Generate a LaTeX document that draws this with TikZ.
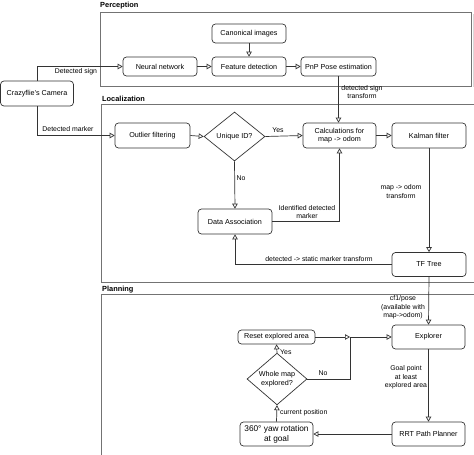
\documentclass[tikz,border=0pt]{standalone}
\usepackage{fontspec}
\setmainfont{Liberation Sans}
\usetikzlibrary{shapes.geometric,arrows.meta}
\newcommand{\nfs}{\fontsize{7.2}{8.6}\selectfont}
\newcommand{\lfs}{\fontsize{6.9}{8.4}\selectfont}
\tikzset{
  box/.style={draw=black!80, rounded corners=3.5pt, line width=0.7pt, font=\nfs, align=center, inner sep=0pt},
  dia/.style={draw=black!80, diamond, line width=0.7pt, font=\nfs, align=center, inner sep=0pt},
  frame/.style={draw=black!55, line width=1pt},
  arr/.style={draw=black!80, line width=0.7pt, -{Triangle[open, length=5pt, width=5.5pt]}},
  lbl/.style={font=\lfs, align=center, inner sep=0pt},
  hdr/.style={font=\fontsize{7.4}{9}\selectfont\bfseries, anchor=west, inner sep=0pt},
}
\begin{document}
\begin{tikzpicture}[x=1pt, y=-1pt]
\useasboundingbox[fill=white] (0,0) rectangle (474,455);
% frames
\draw[black!15, line width=1pt] (473,14) -- (473,87);
\draw[frame] (100,12.7) rectangle (471,86);
\draw[frame] (480,104.5) -- (101,104.5) -- (101,282.5) -- (480,282.5);
\draw[frame] (480,294) -- (101.5,294) -- (101.5,470);
\node[hdr] (hp) at (100,6) {Perception};
\node[hdr] (hl) at (102,99) {Localization};
\node[hdr] (hpl) at (102,289.5) {Planning};
% nodes
\node[box, minimum width=73pt, minimum height=25pt] (cam) at (37,93.5) {Crazyflie's Camera};
\node[box, minimum width=74pt, minimum height=19pt] (nn) at (160,66.5) {Neural network};
\node[box, minimum width=74pt, minimum height=19pt] (fd) at (249,66.5) {Feature detection};
\node[box, minimum width=74pt, minimum height=19pt] (ci) at (249,33.5) {Canonical images};
\node[box, minimum width=75pt, minimum height=19pt] (pnp) at (338.5,66.5) {PnP Pose estimation};
\node[box, minimum width=75pt, minimum height=25pt] (of) at (152.5,135.5) {Outlier filtering};
\node[dia, minimum width=61pt, minimum height=49pt] (uid) at (234.5,136.5) {Unique ID?};
\node[box, minimum width=73pt, minimum height=25pt] (calc) at (339.5,135.5) {Calculations for\\map -> odom};
\node[box, minimum width=74pt, minimum height=25pt] (kf) at (429,135.5) {Kalman filter};
\node[box, minimum width=74pt, minimum height=25pt] (da) at (235,221.5) {Data Association};
\node[box, minimum width=74pt, minimum height=24pt] (tf) at (429,264.5) {TF Tree};
\node[box, minimum width=73pt, minimum height=24pt] (exp) at (428.5,337) {Explorer};
\node[box, minimum width=77pt, minimum height=14pt] (reset) at (276.5,337) {Reset explored area};
\node[dia, minimum width=60pt, minimum height=44pt] (wme) at (277,379) {Whole map\\explored?};
\node[box, minimum width=73pt, minimum height=24pt, font=\fontsize{8.3}{9.8}\selectfont] (yaw) at (276.5,434) {360° yaw rotation\\at goal};
\node[box, minimum width=73pt, minimum height=24pt] (rrt) at (428.5,434) {RRT Path Planner};
\coordinate (j) at (350,337);
% edges
\draw[arr] (cam.north) |- (nn.west);
\node[lbl] (l1) at (76,72) {Detected sign};
\draw[arr] (cam.south) |- (of.west);
\node[lbl] (l2) at (68,129) {Detected marker};
\draw[arr] (ci.south) -- (fd.north);
\draw[arr] (nn.east) -- (fd.west);
\draw[arr] (fd.east) -- (pnp.west);
\draw[arr] (pnp.south) -- (pnp.south |- calc.north);
\node[lbl] (l3) at (362,92) {detected sign\\transform};
\draw[arr] (of.east) -- (uid.west);
\draw[arr] (uid.east) -- (calc.west);
\node[lbl] (l4) at (278,130) {Yes};
\draw[arr] (calc.east) -- (kf.west);
\draw[arr] (kf.south) -- (tf.north);
\node[lbl] (l5) at (401,191.5) {map -> odom\\transform};
\draw[arr] (uid.south) -- (da.north);
\node[lbl] (l6) at (241,178) {No};
\draw[arr] (da.east) -| (calc.south);
\node[lbl] (l7) at (307,212) {Identified detected\\marker};
\draw[arr] (tf.west) -| (da.south);
\node[lbl] (l8) at (319,259) {detected -> static marker transform};
\draw[arr] (tf.south) -- (exp.north);
\node[lbl] (l9) at (403,307.5) {cf1/pose\\(available with\\map->odom)};
\draw[arr] (reset.east) -- (j);
\draw[arr] (wme.east) -| (j) -- (exp.west);
\node[lbl] (l10) at (323,373) {No};
\draw[arr] (wme.north) -- (reset.south);
\node[lbl, anchor=west] (l11) at (280,352) {Yes};
\draw[arr] (yaw.north) -- (wme.south);
\node[lbl, anchor=west] (l12) at (280,413) {current position};
\draw[arr] (exp.south) -- (rrt.north);
\node[lbl] (l13) at (406,377.5) {Goal point\\at least\\explored area};
\draw[arr] (rrt.west) -- (yaw.east);
\end{tikzpicture}
\end{document}
